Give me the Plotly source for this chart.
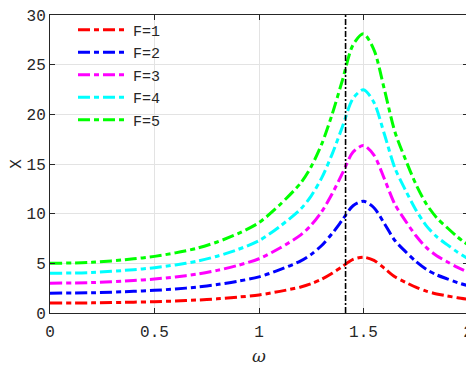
import plotly.graph_objects as go

omega = [0.0, 0.2, 0.4, 0.5, 0.6, 0.7, 0.8, 0.9, 1.0, 1.1, 1.2, 1.25, 1.3, 1.35, 1.4,
         1.45, 1.5, 1.55, 1.6, 1.65, 1.7, 1.75, 1.8, 1.85, 1.9, 1.95, 2.0]

X_F1 = [1.00, 1.02, 1.09, 1.14, 1.21, 1.30, 1.43, 1.60, 1.82, 2.18, 2.62, 2.95, 3.40, 4.00, 4.70,
        5.40, 5.62, 5.30, 4.50, 3.65, 3.10, 2.60, 2.20, 1.92, 1.72, 1.53, 1.37]
X_F2 = [2.00, 2.04, 2.18, 2.28, 2.42, 2.60, 2.86, 3.20, 3.64, 4.36, 5.24, 5.90, 6.80, 8.00, 9.40,
        10.80, 11.24, 10.60, 9.00, 7.30, 6.20, 5.20, 4.40, 3.84, 3.44, 3.06, 2.74]
X_F3 = [3.00, 3.06, 3.27, 3.42, 3.63, 3.90, 4.29, 4.80, 5.46, 6.54, 7.86, 8.85, 10.20, 12.00, 14.10,
        16.20, 16.86, 15.90, 13.50, 10.95, 9.30, 7.80, 6.60, 5.76, 5.16, 4.59, 4.11]
X_F4 = [4.00, 4.08, 4.36, 4.56, 4.84, 5.20, 5.72, 6.40, 7.28, 8.72, 10.48, 11.80, 13.60, 16.00, 18.80,
        21.60, 22.48, 21.20, 18.00, 14.60, 12.40, 10.40, 8.80, 7.68, 6.88, 6.12, 5.48]
X_F5 = [5.00, 5.10, 5.45, 5.70, 6.05, 6.50, 7.15, 8.00, 9.10, 10.90, 13.10, 14.75, 17.00, 20.00, 23.50,
        27.00, 28.10, 26.50, 22.50, 18.25, 15.50, 13.00, 11.00, 9.60, 8.60, 7.65, 6.85]

series_names = ["F=1", "F=2", "F=3", "F=4", "F=5"]
series_values = [X_F1, X_F2, X_F3, X_F4, X_F5]
series_colors = ["#ff0000", "#0000ff", "#ff00ff", "#00ffff", "#00ff00"]

omega_line = 1.4142
x_range = [0, 2]
y_range = [0, 30]
x_dtick = 0.5
y_dtick = 5

FONT = "Liberation Mono, Courier New, monospace"
TXT = "#262626"

fig = go.Figure()
for name, vals, col in zip(series_names, series_values, series_colors):
    fig.add_trace(go.Scatter(
        x=omega, y=vals, name=name, mode="lines",
        line=dict(color=col, width=3, dash="12px,4px,5px,4px", shape="spline", smoothing=0.8),
    ))

fig.add_trace(go.Scatter(
    x=[omega_line, omega_line], y=y_range, mode="lines", showlegend=False,
    line=dict(color="black", width=1.6, dash="6px,2px,2px,2px"),
))

axis_common = dict(
    showline=True, linecolor="#262626", linewidth=1, mirror="ticks",
    ticks="inside", ticklen=5, tickcolor="#262626",
    showgrid=True, gridcolor="#e3e3e3", gridwidth=1, zeroline=False,
    tickfont=dict(family=FONT, size=16, color=TXT),
    ticklabeloverflow="allow", tickmode="linear", tick0=0,
)

fig.update_xaxes(range=x_range, dtick=x_dtick, ticklabelstandoff=4,
                 title=dict(text="<i>ω</i>", font=dict(family="DejaVu Serif", size=17, color=TXT), standoff=11),
                 **axis_common)
fig.update_yaxes(range=y_range, dtick=y_dtick,
                 title=dict(text="X", font=dict(family=FONT, size=16, color=TXT), standoff=6),
                 **axis_common)

# page body has an 8px margin, so the figure is sized to fit the 474x366 window
fig.update_layout(
    width=466, height=358,
    margin=dict(l=42, r=6, t=0, b=53),
    plot_bgcolor="white", paper_bgcolor="white",
    legend=dict(x=0.055, y=1.005, xanchor="left", yanchor="top",
                bgcolor="rgba(255,255,255,0)", borderwidth=0,
                font=dict(family=FONT, size=15, color=TXT),
                itemwidth=50, tracegroupgap=0),
    showlegend=True,
)

fig.write_html("out.html")
